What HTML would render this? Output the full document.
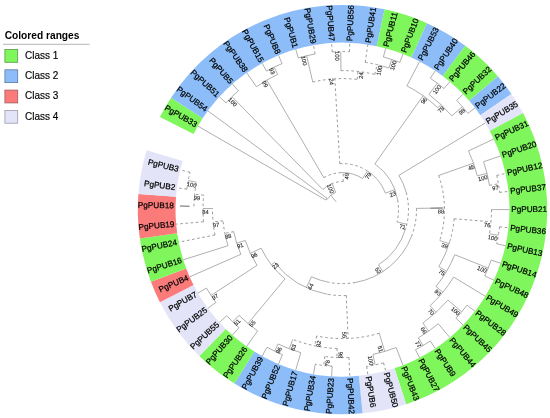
<!DOCTYPE html>
<html><head><meta charset="utf-8"><style>
html,body{margin:0;padding:0;background:#fff;}
body{width:550px;height:418px;overflow:hidden;position:relative;font-family:"Liberation Sans",Arial,sans-serif;}
svg{position:absolute;left:0;top:0;}
.lab text{font-size:8.2px;fill:#000;stroke:#000;stroke-width:0.22px;text-rendering:geometricPrecision;}
</style></head><body>
<svg width="550" height="418" viewBox="0 0 550 418">
<g class="ring"><path d="M159.91,117.07 A204.7,204.7 0 0 1 171.07,97.74 L202.64,118.34 A167.0,167.0 0 0 0 193.54,134.11 Z" fill="#7ef65c"/><path d="M171.07,97.74 A204.7,204.7 0 0 1 384.62,9.28 L376.86,46.17 A167.0,167.0 0 0 0 202.64,118.34 Z" fill="#8cbdf8"/><path d="M384.62,9.28 A204.7,204.7 0 0 1 426.98,23.15 L411.42,57.49 A167.0,167.0 0 0 0 376.86,46.17 Z" fill="#7ef65c"/><path d="M426.98,23.15 A204.7,204.7 0 0 1 465.33,45.85 L442.71,76.01 A167.0,167.0 0 0 0 411.42,57.49 Z" fill="#8cbdf8"/><path d="M465.33,45.85 A204.7,204.7 0 0 1 497.86,76.32 L469.25,100.87 A167.0,167.0 0 0 0 442.71,76.01 Z" fill="#7ef65c"/><path d="M497.86,76.32 A204.7,204.7 0 0 1 511.45,94.02 L480.34,115.31 A167.0,167.0 0 0 0 469.25,100.87 Z" fill="#8cbdf8"/><path d="M511.45,94.02 A204.7,204.7 0 0 1 523.03,113.11 L489.78,130.88 A167.0,167.0 0 0 0 480.34,115.31 Z" fill="#e4e4f8"/><path d="M523.03,113.11 A204.7,204.7 0 0 1 406.18,404.14 L394.45,368.31 A167.0,167.0 0 0 0 489.78,130.88 Z" fill="#7ef65c"/><path d="M406.18,404.14 A204.7,204.7 0 0 1 362.56,413.31 L358.87,375.80 A167.0,167.0 0 0 0 394.45,368.31 Z" fill="#e4e4f8"/><path d="M362.56,413.31 A204.7,204.7 0 0 1 234.40,383.43 L254.31,351.42 A167.0,167.0 0 0 0 358.87,375.80 Z" fill="#8cbdf8"/><path d="M234.40,383.43 A204.7,204.7 0 0 1 199.34,355.92 L225.71,328.97 A167.0,167.0 0 0 0 254.31,351.42 Z" fill="#7ef65c"/><path d="M199.34,355.92 A204.7,204.7 0 0 1 159.91,302.13 L193.54,285.09 A167.0,167.0 0 0 0 225.71,328.97 Z" fill="#e4e4f8"/><path d="M159.91,302.13 A204.7,204.7 0 0 1 150.92,281.71 L186.20,268.43 A167.0,167.0 0 0 0 193.54,285.09 Z" fill="#fb7b7b"/><path d="M150.92,281.71 A204.7,204.7 0 0 1 139.85,238.53 L177.18,233.20 A167.0,167.0 0 0 0 186.20,268.43 Z" fill="#7ef65c"/><path d="M139.85,238.53 A204.7,204.7 0 0 1 138.40,193.98 L175.99,196.86 A167.0,167.0 0 0 0 177.18,233.20 Z" fill="#fb7b7b"/><path d="M138.40,193.98 A204.7,204.7 0 0 1 146.61,150.18 L182.69,161.12 A167.0,167.0 0 0 0 175.99,196.86 Z" fill="#e4e4f8"/></g>
<g class="tree" fill="none" stroke="#9a9a9a" stroke-width="0.8"><path stroke="#666" stroke-width="1.1" d="M189.54,206.26L180.04,206.06M430.49,208.18L442.49,207.98"/><path d="M325.87,200.00A19.2,19.2 0 0 1 327.02,198.25M325.87,200.00L197.87,126.10M327.02,198.25L207.82,110.85M226.01,102.86A158,158 0 0 1 238.32,90.81M226.01,102.86L219.37,96.78M238.32,90.81L232.39,84.04M266.50,71.08A158,158 0 0 1 282.04,63.63M266.50,71.08L262.17,63.19M282.04,63.63L278.59,55.31M256.46,86.73A150,150 0 0 1 277.63,74.35M256.46,86.73L246.71,72.80M277.63,74.35L274.17,67.14M298.29,57.91A158,158 0 0 1 315.06,54.00M298.29,57.91L295.77,49.27M383.39,56.98A158,158 0 0 1 399.77,62.34M383.39,56.98L385.72,48.29M399.77,62.34L403.03,53.95M378.55,65.03A149,149 0 0 1 388.85,67.99M388.85,67.99L391.65,59.44M340.98,70.61L340.78,51.61M312.75,82.02L306.62,55.73M430.28,78.23A158,158 0 0 1 444.06,88.56M430.28,78.23L435.28,70.74M444.06,88.56L449.85,81.67M456.63,100.34A158,158 0 0 1 467.85,113.42M456.63,100.34L463.13,94.12M467.85,113.42L474.99,107.94M428.91,94.41A144,144 0 0 1 451.79,115.84M428.91,94.41L437.31,83.21M451.79,115.84L462.42,106.73M406.91,85.86A139.5,139.5 0 0 1 437.86,107.78M406.91,85.86L419.61,61.47M437.86,107.78L440.94,104.50M483.59,161.71A149,149 0 0 1 489.51,185.33M483.59,161.71L500.64,155.92M468.48,150.86A139,139 0 0 1 477.33,175.83M468.48,150.86L493.85,139.02M477.33,175.83L487.03,173.40M496.75,243.80L505.54,245.75M491.50,209.60L509.50,209.60M489.51,233.87L498.39,235.34M491.17,260.07A157,157 0 0 1 484.79,275.95M491.17,260.07L500.64,263.28M484.79,275.95L493.85,280.18M467.06,305.18A157,157 0 0 1 455.91,318.17M467.06,305.18L474.99,311.26M455.91,318.17L463.13,325.08M430.28,340.97A158,158 0 0 1 415.46,349.75M430.28,340.97L435.28,348.46M415.46,349.75L419.61,357.73M438.28,323.74A149,149 0 0 1 418.40,337.82M438.28,323.74L449.85,337.53M418.40,337.82L422.99,345.56M448.00,300.10A139,139 0 0 1 422.85,323.03M448.00,300.10L461.66,311.82M422.85,323.03L428.63,331.19M453.64,277.04A130,130 0 0 1 430.07,305.69M453.64,277.04L485.27,296.24M430.07,305.69L436.13,312.34M454.79,254.68A121,121 0 0 1 435.93,286.49M454.79,254.68L488.20,268.10M435.93,286.49L442.88,292.21M450.68,238.59A112,112 0 0 1 438.84,266.72M438.84,266.72L446.58,271.31M438.63,175.50L473.50,163.13M439.68,240.57L449.21,243.61M396.14,347.54A148,148 0 0 1 372.96,354.43M396.14,347.54L403.03,365.25M372.96,354.43L375.16,364.90M332.23,366.26L331.58,376.24M315.24,364.21L313.50,374.06M282.42,354.65A157,157 0 0 1 266.98,347.25M282.42,354.65L278.59,363.89M266.98,347.25L262.17,356.01M300.81,352.65A149,149 0 0 1 278.06,343.94M300.81,352.65L295.77,369.93M278.06,343.94L274.60,351.16M292.83,339.42L289.25,348.76M379.27,333.25L384.69,351.46M238.98,327.64A157,157 0 0 1 226.75,315.67M238.98,327.64L232.39,335.16M226.75,315.67L219.37,322.42M257.61,330.83A148,148 0 0 1 239.00,315.39M257.61,330.83L246.71,346.40M239.00,315.39L232.70,321.82M215.89,302.44A157,157 0 0 1 206.53,288.10M215.89,302.44L207.82,308.35M206.53,288.10L197.87,293.10M196.45,182.20L188.19,180.65M212.50,208.54L203.00,208.46M228.05,245.68A120,120 0 0 1 225.12,234.55M228.05,245.68L183.23,259.82M240.90,254.30A111,111 0 0 1 233.71,231.63M240.90,254.30L189.64,276.86M257.08,265.34A102,102 0 0 1 245.27,240.44M257.08,265.34L211.02,295.40M245.27,240.44L236.69,243.16M285.03,278.86A90,90 0 0 1 261.17,248.15M285.03,278.86L247.99,323.49M261.17,248.15L250.33,253.29M327.57,294.29A86,86 0 0 1 274.58,262.35M274.58,262.35L271.42,264.81M411.58,236.12A74,74 0 0 1 355.35,282.48M329.65,282.48A74,74 0 0 1 311.42,276.76M416.49,208.40L444.49,207.95M311.42,276.76L306.38,287.65M398.92,175.36A66,66 0 0 1 406.25,192.52M405.94,227.79A66,66 0 0 1 378.49,264.92M398.92,175.36L485.27,122.96M378.49,264.92L382.86,271.63M374.87,163.90A56,56 0 0 1 397.65,199.88M374.87,163.90L423.14,95.77M397.10,222.06L406.85,224.28M365.50,169.76A46,46 0 0 1 385.47,193.18M385.47,193.18L394.81,189.61M341.21,172.62A37,37 0 0 1 362.58,178.52M323.83,177.66L266.79,80.11M362.58,178.52L367.46,170.96M322.92,189.59A28,28 0 0 1 331.11,184.02M322.92,189.59L232.00,96.67M327.01,199.49A18.5,18.5 0 0 1 335.70,192.39M327.01,199.49L326.42,199.11M335.70,192.39L332.22,183.56M336.18,201.85L330.80,195.27"/><path stroke="#808080" stroke-dasharray="2.6 2.6" d="M315.06,54.00L313.50,45.14M332.17,51.94A158,158 0 0 1 349.39,51.75M332.17,51.94L331.58,42.96M349.39,51.75L349.78,42.76M365.17,62.33A149,149 0 0 1 378.55,65.03M365.17,62.33L367.90,44.54M340.98,70.61A139,139 0 0 1 374.80,74.41M374.80,74.41L377.13,64.68M312.75,82.02A131,131 0 0 1 357.12,79.42M357.12,79.42L358.01,71.47M496.75,175.40A158,158 0 0 1 499.56,192.40M496.75,175.40L505.54,173.45M499.56,192.40L508.51,191.42M489.51,185.33L498.39,183.86M499.56,226.80A158,158 0 0 1 496.75,243.80M499.56,226.80L508.51,227.78M491.50,209.60A149,149 0 0 1 489.51,233.87M454.13,218.75A112,112 0 0 1 450.68,238.59M454.13,218.75L491.00,221.78M438.63,175.50A102,102 0 0 1 439.68,240.57M383.57,362.89A158.7,158.7 0 0 1 366.64,366.45M383.57,362.89L385.72,370.91M366.64,366.45L367.90,374.66M332.23,366.26A157,157 0 0 1 315.24,364.21M348.96,357.46A148,148 0 0 1 324.78,356.54M348.96,357.46L349.78,376.44M324.78,356.54L323.71,365.47M337.19,348.50A139,139 0 0 1 292.83,339.42M337.19,348.50L336.85,357.49M379.27,333.25A129,129 0 0 1 316.64,335.98M316.64,335.98L314.64,345.78M186.84,189.11A157,157 0 0 1 190.00,172.28M186.84,189.11L176.93,187.80M190.00,172.28L180.29,169.91M193.94,206.36A148.6,148.6 0 0 1 196.45,182.20M203.53,221.76A139.5,139.5 0 0 1 203.75,195.17M203.53,221.76L176.14,224.16M203.75,195.17L194.70,194.23M215.00,234.96A130,130 0 0 1 212.50,208.54M215.00,234.96L178.71,242.18M225.12,234.55A120,120 0 0 1 223.03,220.87M223.03,220.87L213.07,221.81M233.71,231.63L224.89,233.41M346.25,295.52A86,86 0 0 1 327.57,294.29M346.25,295.52L348.13,338.48M416.49,208.40A74,74 0 0 1 411.58,236.12M355.35,282.48A74,74 0 0 1 329.65,282.48M406.25,192.52A66,66 0 0 1 405.94,227.79M397.65,199.88A56,56 0 0 1 397.10,222.06M339.80,163.68A46,46 0 0 1 365.50,169.76M339.80,163.68L334.82,78.83M323.83,177.66A37,37 0 0 1 341.21,172.62M331.11,184.02A28,28 0 0 1 343.12,181.61M343.12,181.61L343.32,172.61"/></g>
<g class="boot" font-family="Liberation Sans, Arial, sans-serif" font-size="5.8" fill="#222" stroke="#222" stroke-width="0.1"><text transform="translate(231.58 96.24) rotate(45.62)" dy="5.5">100</text><text transform="translate(273.91 66.60) rotate(64.38)" dy="5.5">93</text><text transform="translate(266.49 79.59) rotate(59.69)" dy="5.5">99</text><text transform="translate(306.49 55.14) rotate(76.88)" dy="5.5">100</text><text transform="translate(340.77 51.01) rotate(89.38)" dy="5.5">100</text><text transform="translate(391.53 59.82) rotate(288.12)" text-anchor="end" dy="5.5">100</text><text transform="translate(377.03 65.07) rotate(283.44)" text-anchor="end" dy="5.5">100</text><text transform="translate(357.96 71.87) rotate(276.41)" text-anchor="end" dy="5.5">24</text><text transform="translate(334.79 78.23) rotate(86.64)" dy="5.5">24</text><text transform="translate(437.07 83.53) rotate(306.88)" text-anchor="end" dy="5.5">100</text><text transform="translate(462.12 106.99) rotate(319.38)" text-anchor="end" dy="5.5">98</text><text transform="translate(440.66 104.79) rotate(313.12)" text-anchor="end" dy="5.5">78</text><text transform="translate(422.90 96.09) rotate(305.31)" text-anchor="end" dy="5.5">96</text><text transform="translate(497.99 183.93) rotate(350.62)" text-anchor="end" dy="5.5">97</text><text transform="translate(486.65 173.49) rotate(345.94)" text-anchor="end" dy="5.5">100</text><text transform="translate(473.12 163.26) rotate(340.47)" text-anchor="end" dy="5.5">45</text><text transform="translate(497.99 235.27) rotate(9.38)" text-anchor="end" dy="5.5">100</text><text transform="translate(490.60 221.74) rotate(4.69)" text-anchor="end" dy="5.5">76</text><text transform="translate(487.82 267.95) rotate(21.88)" text-anchor="end" dy="5.5">100</text><text transform="translate(461.36 311.56) rotate(40.62)" text-anchor="end" dy="5.5">100</text><text transform="translate(422.78 345.22) rotate(59.38)" text-anchor="end" dy="5.5">77</text><text transform="translate(428.40 330.86) rotate(54.69)" text-anchor="end" dy="5.5">66</text><text transform="translate(435.86 312.04) rotate(47.66)" text-anchor="end" dy="5.5">70</text><text transform="translate(442.57 291.95) rotate(39.45)" text-anchor="end" dy="5.5">93</text><text transform="translate(446.24 271.11) rotate(30.66)" text-anchor="end" dy="5.5">75</text><text transform="translate(448.83 243.49) rotate(17.68)" text-anchor="end" dy="5.5">39</text><text transform="translate(444.09 207.95) rotate(359.07)" text-anchor="end" dy="5.5">88</text><text transform="translate(375.07 364.51) rotate(78.12)" text-anchor="end" dy="5.5">100</text><text transform="translate(384.58 351.08) rotate(73.44)" text-anchor="end" dy="5.5">51</text><text transform="translate(323.63 366.07) rotate(-83.12)" dy="5.5">78</text><text transform="translate(336.83 358.09) rotate(-87.81)" dy="5.5">86</text><text transform="translate(274.34 351.70) rotate(-64.38)" dy="5.5">86</text><text transform="translate(289.04 349.32) rotate(-69.06)" dy="5.5">63</text><text transform="translate(314.52 346.37) rotate(-78.44)" dy="5.5">82</text><text transform="translate(348.11 338.08) rotate(87.50)" text-anchor="end" dy="5.5">56</text><text transform="translate(232.28 322.25) rotate(-45.62)" dy="5.5">51</text><text transform="translate(247.60 323.95) rotate(-50.31)" dy="5.5">55</text><text transform="translate(210.51 295.72) rotate(-33.12)" dy="5.5">97</text><text transform="translate(187.60 180.54) rotate(10.62)" dy="5.5">100</text><text transform="translate(194.10 194.17) rotate(5.94)" dy="5.5">99</text><text transform="translate(202.40 208.45) rotate(0.47)" dy="5.5">84</text><text transform="translate(212.48 221.87) rotate(-5.39)" dy="5.5">97</text><text transform="translate(224.30 233.53) rotate(-11.45)" dy="5.5">88</text><text transform="translate(236.12 243.34) rotate(-17.60)" dy="5.5">91</text><text transform="translate(249.79 253.55) rotate(-25.36)" dy="5.5">96</text><text transform="translate(270.95 265.18) rotate(-37.84)" dy="5.5">23</text><text transform="translate(306.13 288.19) rotate(-65.17)" dy="5.5">44</text><text transform="translate(382.64 271.29) rotate(56.95)" text-anchor="end" dy="5.5">52</text><text transform="translate(406.46 224.19) rotate(12.85)" text-anchor="end" dy="5.5">71</text><text transform="translate(394.44 189.75) rotate(339.08)" text-anchor="end" dy="5.5">23</text><text transform="translate(367.24 171.30) rotate(302.86)" text-anchor="end" dy="5.5">79</text><text transform="translate(343.31 173.01) rotate(271.27)" text-anchor="end" dy="5.5">49</text><text transform="translate(331.99 183.00) rotate(68.45)" dy="5.5">100</text></g>
<g class="lab" font-family="Liberation Sans, Arial, sans-serif"><text transform="translate(196.40 125.25) rotate(30.00) scale(1 1)" text-anchor="end" dy="2.5">PgPUB33</text><text transform="translate(206.45 109.85) rotate(36.25) scale(1 1)" text-anchor="end" dy="2.5">PgPUB54</text><text transform="translate(218.12 95.63) rotate(42.50) scale(1 1)" text-anchor="end" dy="2.5">PgPUB51</text><text transform="translate(231.27 82.76) rotate(48.75) scale(1 1)" text-anchor="end" dy="2.5">PgPUB5</text><text transform="translate(245.74 71.41) rotate(55.00) scale(1 1)" text-anchor="end" dy="2.5">PgPUB38</text><text transform="translate(261.36 61.70) rotate(61.25) scale(1 1)" text-anchor="end" dy="2.5">PgPUB15</text><text transform="translate(277.94 53.74) rotate(67.50) scale(1 1)" text-anchor="end" dy="2.5">PgPUB8</text><text transform="translate(295.29 47.64) rotate(73.75) scale(1 1)" text-anchor="end" dy="2.5">PgPUB1</text><text transform="translate(313.21 43.46) rotate(80.00) scale(1 1)" text-anchor="end" dy="2.5">PgPUB29</text><text transform="translate(331.47 41.26) rotate(86.25) scale(1 1)" text-anchor="end" dy="2.5">PgPUB47</text><text transform="translate(349.86 41.06) rotate(272.50) scale(1 1)" dy="2.5">PgPUB56</text><text transform="translate(368.16 42.86) rotate(278.75) scale(1 1)" dy="2.5">PgPUB41</text><text transform="translate(386.16 46.65) rotate(285.00) scale(1 1)" dy="2.5">PgPUB11</text><text transform="translate(403.64 52.37) rotate(291.25) scale(1 1)" dy="2.5">PgPUB10</text><text transform="translate(420.40 59.96) rotate(297.50) scale(1 1)" dy="2.5">PgPUB53</text><text transform="translate(436.22 69.33) rotate(303.75) scale(1 1)" dy="2.5">PgPUB40</text><text transform="translate(450.94 80.37) rotate(310.00) scale(1 1)" dy="2.5">PgPUB46</text><text transform="translate(464.36 92.94) rotate(316.25) scale(1 1)" dy="2.5">PgPUB32</text><text transform="translate(476.34 106.90) rotate(322.50) scale(1 1)" dy="2.5">PgPUB22</text><text transform="translate(486.72 122.08) rotate(328.75) scale(1 1)" dy="2.5">PgPUB35</text><text transform="translate(495.39 138.30) rotate(335.00) scale(1 1)" dy="2.5">PgPUB31</text><text transform="translate(502.25 155.37) rotate(341.25) scale(1 1)" dy="2.5">PgPUB20</text><text transform="translate(507.20 173.09) rotate(347.50) scale(1 1)" dy="2.5">PgPUB12</text><text transform="translate(510.20 191.23) rotate(353.75) scale(1 1)" dy="2.5">PgPUB37</text><text transform="translate(511.20 209.60) rotate(0.00) scale(1 1)" dy="2.5">PgPUB21</text><text transform="translate(510.20 227.97) rotate(6.25) scale(1 1)" dy="2.5">PgPUB36</text><text transform="translate(507.20 246.11) rotate(12.50) scale(1 1)" dy="2.5">PgPUB13</text><text transform="translate(502.25 263.83) rotate(18.75) scale(1 1)" dy="2.5">PgPUB14</text><text transform="translate(495.39 280.90) rotate(25.00) scale(1 1)" dy="2.5">PgPUB48</text><text transform="translate(486.72 297.12) rotate(31.25) scale(1 1)" dy="2.5">PgPUB49</text><text transform="translate(476.34 312.30) rotate(37.50) scale(1 1)" dy="2.5">PgPUB28</text><text transform="translate(464.36 326.26) rotate(43.75) scale(1 1)" dy="2.5">PgPUB45</text><text transform="translate(450.94 338.83) rotate(50.00) scale(1 1)" dy="2.5">PgPUB44</text><text transform="translate(436.22 349.87) rotate(56.25) scale(1 1)" dy="2.5">PgPUB9</text><text transform="translate(420.40 359.24) rotate(62.50) scale(1 1)" dy="2.5">PgPUB27</text><text transform="translate(403.64 366.83) rotate(68.75) scale(1 1)" dy="2.5">PgPUB43</text><text transform="translate(386.16 372.55) rotate(75.00) scale(1 1)" dy="2.5">PgPUB50</text><text transform="translate(368.16 376.34) rotate(81.25) scale(1 1)" dy="2.5">PgPUB6</text><text transform="translate(349.86 378.14) rotate(87.50) scale(1 1)" dy="2.5">PgPUB42</text><text transform="translate(331.47 377.94) rotate(-86.25) scale(1 1)" text-anchor="end" dy="2.5">PgPUB23</text><text transform="translate(313.21 375.74) rotate(-80.00) scale(1 1)" text-anchor="end" dy="2.5">PgPUB34</text><text transform="translate(295.29 371.56) rotate(-73.75) scale(1 1)" text-anchor="end" dy="2.5">PgPUB17</text><text transform="translate(277.94 365.46) rotate(-67.50) scale(1 1)" text-anchor="end" dy="2.5">PgPUB52</text><text transform="translate(261.36 357.50) rotate(-61.25) scale(1 1)" text-anchor="end" dy="2.5">PgPUB39</text><text transform="translate(245.74 347.79) rotate(-55.00) scale(1 1)" text-anchor="end" dy="2.5">PgPUB26</text><text transform="translate(231.27 336.44) rotate(-48.75) scale(1 1)" text-anchor="end" dy="2.5">PgPUB30</text><text transform="translate(218.12 323.57) rotate(-42.50) scale(1 1)" text-anchor="end" dy="2.5">PgPUB55</text><text transform="translate(206.45 309.35) rotate(-36.25) scale(1 1)" text-anchor="end" dy="2.5">PgPUB25</text><text transform="translate(196.40 293.95) rotate(-30.00) scale(1 1)" text-anchor="end" dy="2.5">PgPUB7</text><text transform="translate(188.09 277.54) rotate(-23.75) scale(1 1)" text-anchor="end" dy="2.5">PgPUB4</text><text transform="translate(181.61 260.33) rotate(-17.50) scale(1 1)" text-anchor="end" dy="2.5">PgPUB16</text><text transform="translate(177.04 242.51) rotate(-11.25) scale(1 1)" text-anchor="end" dy="2.5">PgPUB24</text><text transform="translate(174.44 224.30) rotate(-5.00) scale(1 1)" text-anchor="end" dy="2.5">PgPUB19</text><text transform="translate(173.84 205.92) rotate(1.25) scale(1 1)" text-anchor="end" dy="2.5">PgPUB18</text><text transform="translate(175.24 187.58) rotate(7.50) scale(1 1)" text-anchor="end" dy="2.5">PgPUB2</text><text transform="translate(178.63 169.50) rotate(13.75) scale(1 1)" text-anchor="end" dy="2.5">PgPUB3</text></g>
<g class="legend" font-family="Liberation Sans, Arial, sans-serif">
<text x="4.7" y="39" font-size="10.2" font-weight="bold" fill="#000">Colored ranges</text>
<line x1="3" y1="44.3" x2="89.5" y2="44.3" stroke="#b4b4b4" stroke-width="1"/>
<rect x="4.9" y="49.5" width="12.8" height="12.8" fill="#7ef65c" stroke="#5a9a4a" stroke-width="0.8"/>
<rect x="4.9" y="69.8" width="12.8" height="12.8" fill="#8cbdf8" stroke="#5a7aa0" stroke-width="0.8"/>
<rect x="4.9" y="90.1" width="12.8" height="12.8" fill="#fb7b7b" stroke="#a05a5a" stroke-width="0.8"/>
<rect x="4.9" y="110.4" width="12.8" height="12.8" fill="#e4e4f8" stroke="#9a9aaa" stroke-width="0.8"/>
<text x="25" y="58.7" font-size="10" fill="#000" stroke="#000" stroke-width="0.15">Class 1</text>
<text x="25" y="79" font-size="10" fill="#000" stroke="#000" stroke-width="0.15">Class 2</text>
<text x="25" y="99.3" font-size="10" fill="#000" stroke="#000" stroke-width="0.15">Class 3</text>
<text x="25" y="119.6" font-size="10" fill="#000" stroke="#000" stroke-width="0.15">Class 4</text>
</g>
</svg>
</body></html>
